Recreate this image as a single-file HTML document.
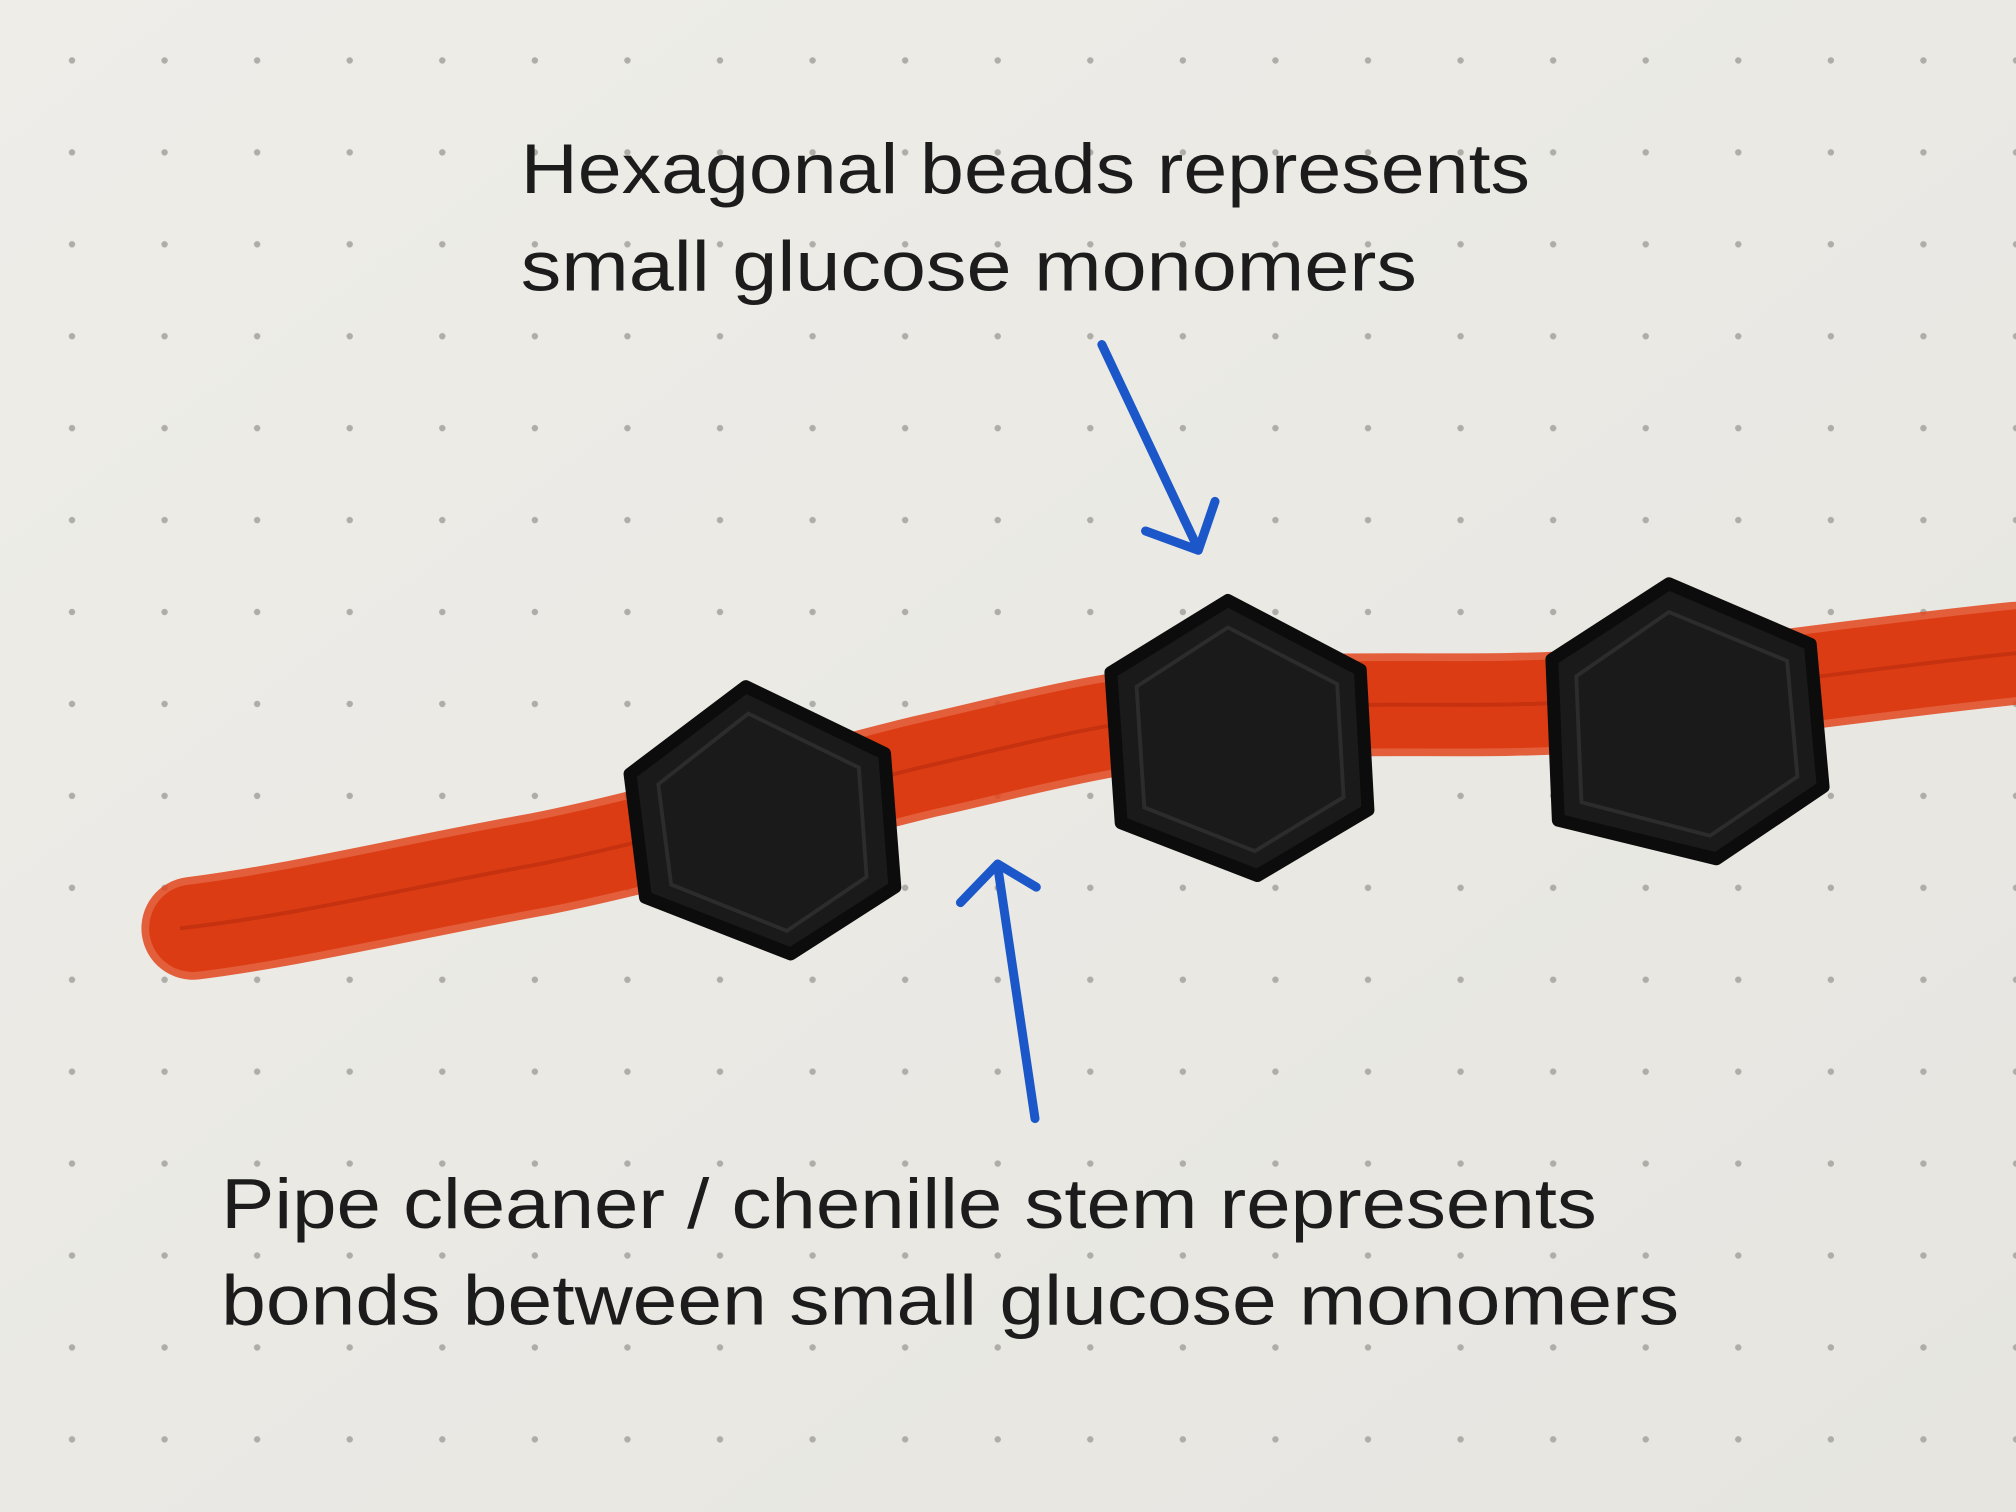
<!DOCTYPE html>
<html><head><meta charset="utf-8"><style>
html,body{margin:0;padding:0;background:#ebeae5;}
svg{display:block;}
</style></head><body>
<svg width="2016" height="1512" viewBox="0 0 1568 1176" xmlns="http://www.w3.org/2000/svg">
<defs>
<pattern id="dots" x="0" y="0" width="72" height="71.5" patternUnits="userSpaceOnUse">
<circle cx="56" cy="47" r="2.5" fill="#aeada8"/>
</pattern>
<linearGradient id="bg" x1="0" y1="0" x2="1" y2="1">
<stop offset="0" stop-color="#eeede8"/><stop offset="1" stop-color="#e6e5e0"/>
</linearGradient>
</defs>
<rect width="1568" height="1176" fill="url(#bg)"/>
<rect width="1568" height="1176" fill="url(#dots)"/>

<!-- pipe cleaner -->
<path d="M150,722 C230,712 320,690 420,672 C520,652 620,620 720,596 C800,578 860,560 960,552 C1060,544 1150,552 1240,545 C1340,538 1450,520 1568,508"
 fill="none" stroke="#e2451c" stroke-width="80" stroke-linecap="round" opacity="0.85"/>
<path d="M150,722 C230,712 320,690 420,672 C520,652 620,620 720,596 C800,578 860,560 960,552 C1060,544 1150,552 1240,545 C1340,538 1450,520 1568,508"
 fill="none" stroke="#db3c14" stroke-width="68" stroke-linecap="round"/>
<path d="M140,722 C230,712 320,690 420,672 C520,652 620,620 720,596 C800,578 860,560 960,552 C1060,544 1150,552 1240,545 C1340,538 1450,520 1568,508"
 fill="none" stroke="#b82a0c" stroke-width="3" opacity="0.6"/>

<!-- beads -->
<g fill="#1a1a1a" stroke="#0c0c0c" stroke-width="10" stroke-linejoin="round">
<polygon points="580,534 688,586 696,690 615,742 502,698 490,602"/>
<polygon points="955,467 1058,521 1064,630 978,681 872,640 864,523"/>
<polygon points="1298,454 1408,501 1418,612 1335,668 1212,638 1207,513"/>
</g>
<g fill="none" stroke="#2c2c2c" stroke-width="3">
<polygon points="582,555 668,597 674,682 612,724 522,688 512,610"/>
<polygon points="955,488 1040,532 1045,620 976,662 890,628 884,534"/>
<polygon points="1298,476 1390,514 1398,604 1330,650 1230,624 1226,526"/>
</g>

<!-- arrows -->
<g stroke="#1b57c9" stroke-width="7" stroke-linecap="round" stroke-linejoin="round" fill="none">
<line x1="857" y1="268" x2="931" y2="425"/>
<polyline points="891,413 932,428 945,390"/>
<line x1="805" y1="870" x2="776" y2="674"/>
<polyline points="747,702 776,672 806,690"/>
</g>

<!-- labels -->
<g font-family="'Liberation Sans', sans-serif" font-size="55" fill="#1c1c1c">
<text x="405" y="150" textLength="785" lengthAdjust="spacingAndGlyphs">Hexagonal beads represents</text>
<text x="405" y="226" textLength="697" lengthAdjust="spacingAndGlyphs">small glucose monomers</text>
<text x="172" y="955" textLength="1070" lengthAdjust="spacingAndGlyphs">Pipe cleaner / chenille stem represents</text>
<text x="172" y="1030" textLength="1134" lengthAdjust="spacingAndGlyphs">bonds between small glucose monomers</text>
</g>
</svg>
</body></html>
